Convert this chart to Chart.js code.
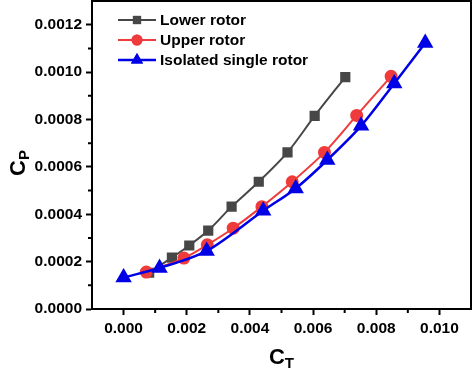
<!DOCTYPE html>
<html lang="en">
<head>
    <meta charset="UTF-8">
    <title>CP vs CT</title>
    <script src="https://cdn.jsdelivr.net/npm/chart.js"></script>
    <style>
        body { margin: 0; background: #fff; }
    </style>
</head>
<body>

<canvas id="chart" width="474" height="373"></canvas>

<script>
    // values
    var lowerCT = [0.00081, 0.00153, 0.00208, 0.00268, 0.00342, 0.00428, 0.00519, 0.00605, 0.00702]
    var lowerCP = [0.000153, 0.000217, 0.000268, 0.000331, 0.000432, 0.000537, 0.000661, 0.000815, 0.000979]
    var upperCT = [0.00072, 0.00191, 0.00265, 0.00347, 0.00438, 0.00534, 0.00636, 0.00738, 0.00847]
    var upperCP = [0.000156, 0.000215, 0.000271, 0.000341, 0.000432, 0.000537, 0.000661, 0.000817, 0.000982]
    var singleCT = [0, 0.00114, 0.00263, 0.00442, 0.00545, 0.00645, 0.00752, 0.00857, 0.00955]
    var singleCP = [0.000133, 0.000173, 0.000245, 0.000415, 0.000509, 0.000629, 0.000773, 0.000952, 0.001123]

    var xTicks = [0, 0.002, 0.004, 0.006, 0.008, 0.010]
    var yTicks = [0, 0.0002, 0.0004, 0.0006, 0.0008, 0.0010, 0.0012]

    var font = '"Liberation Sans", Arial, sans-serif'

    function pts(xs, ys) {
        return xs.map((x, i) => ({x: x, y: ys[i]}))
    }

    var frame = {
        id: 'frame',
        afterDraw(chart) {
            var ctx = chart.ctx
            var a = chart.chartArea
            var xs = chart.scales.x, ys = chart.scales.y
            ctx.save()
            ctx.strokeStyle = '#000'
            ctx.lineWidth = 2
            ctx.strokeRect(a.left, a.top, a.right - a.left, a.bottom - a.top)

            // minor ticks
            ctx.beginPath()
            for (var v = 0.001; v < 0.0105; v += 0.002) {
                var px = xs.getPixelForValue(v)
                ctx.moveTo(px, a.bottom)
                ctx.lineTo(px, a.bottom + 4)
            }
            for (var w = 0.0001; w < 0.00125; w += 0.0002) {
                var py = ys.getPixelForValue(w)
                ctx.moveTo(a.left, py)
                ctx.lineTo(a.left - 4, py)
            }
            ctx.stroke()

            // axis titles with subscripts
            ctx.fillStyle = '#000'
            ctx.textBaseline = 'alphabetic'
            ctx.textAlign = 'left'
            var big = 'bold 22px ' + font, small = 'bold 15px ' + font
            ctx.font = big
            var cw = ctx.measureText('C').width
            ctx.font = small
            var tw = ctx.measureText('T').width
            var cx = (a.left + a.right) / 2 - (cw + tw) / 2
            ctx.font = big
            ctx.fillText('C', cx, 364)
            ctx.font = small
            ctx.fillText('T', cx + cw, 368)

            ctx.save()
            ctx.translate(25, (a.top + a.bottom) / 2 + 8)
            ctx.rotate(-Math.PI / 2)
            ctx.font = small
            var pw = ctx.measureText('P').width
            ctx.font = big
            ctx.fillText('C', -(cw + pw) / 2, 0)
            ctx.font = small
            ctx.fillText('P', -(cw + pw) / 2 + cw, 4)
            ctx.restore()

            // legend
            chart.data.datasets.forEach((d, i) => {
                var y = 20 + i * 20
                ctx.strokeStyle = d.borderColor
                ctx.lineWidth = d.borderWidth
                ctx.beginPath()
                ctx.moveTo(118, y)
                ctx.lineTo(156, y)
                ctx.stroke()
                ctx.fillStyle = d.backgroundColor
                Chart.helpers.drawPoint(ctx, {pointStyle: d.pointStyle, radius: d.pointRadius, rotation: 0, borderWidth: 0}, 137, y)
                ctx.fill()
                ctx.fillStyle = '#000'
                ctx.font = 'bold 15.5px ' + font
                ctx.textBaseline = 'middle'
                ctx.fillText(d.label, 160, y + 1)
            })
            ctx.restore()
        }
    }

    var canvas = document.getElementById('chart')
    var chart = new Chart(canvas, {
        type: 'scatter',
        data: {
            datasets: [{
                label: 'Lower rotor',
                data: pts(lowerCT, lowerCP),
                borderColor: '#474747',
                backgroundColor: '#474747',
                borderWidth: 2,
                pointStyle: 'rect',
                pointRadius: 5.8,
                order: 2
            }, {
                label: 'Upper rotor',
                data: pts(upperCT, upperCP),
                borderColor: '#ef3b3b',
                backgroundColor: '#ef3b3b',
                borderWidth: 2,
                pointStyle: 'circle',
                pointRadius: 5.5,
                order: 1
            }, {
                label: 'Isolated single rotor',
                data: pts(singleCT, singleCP),
                borderColor: '#0000e6',
                backgroundColor: '#0000e6',
                borderWidth: 2.5,
                pointStyle: 'triangle',
                pointRadius: 7,
                order: 0
            }]
        },
        options: {
            responsive: false,
            animation: false,
            showLine: true,
            elements: {
                line: {tension: 0.3},
                point: {borderWidth: 0, hoverRadius: 6}
            },
            layout: {autoPadding: false, padding: {top: 1, right: 3, left: 0, bottom: 0}},
            plugins: {legend: {display: false}, tooltip: {enabled: false}},
            scales: {
                x: {
                    type: 'linear',
                    min: -0.001,
                    max: 0.011,
                    afterBuildTicks: s => { s.ticks = xTicks.map(v => ({value: v})) },
                    afterFit: s => { s.height = 64; s.paddingLeft = 0; s.paddingRight = 0 },
                    grid: {drawOnChartArea: false, tickLength: 6, tickWidth: 2, tickColor: '#000'},
                    border: {display: true, color: '#000', width: 2},
                    ticks: {
                        color: '#000',
                        font: {family: font, size: 15.5, weight: 'bold'},
                        padding: 4,
                        maxRotation: 0,
                        callback: v => v.toFixed(3)
                    }
                },
                y: {
                    type: 'linear',
                    min: 0,
                    max: 0.0013,
                    afterBuildTicks: s => { s.ticks = yTicks.map(v => ({value: v})) },
                    afterFit: s => { s.width = 92; s.paddingTop = 0; s.paddingBottom = 0 },
                    grid: {drawOnChartArea: false, tickLength: 6, tickWidth: 2, tickColor: '#000'},
                    border: {display: true, color: '#000', width: 2},
                    ticks: {
                        color: '#000',
                        font: {family: font, size: 15.5, weight: 'bold'},
                        padding: 4,
                        callback: v => v.toFixed(4)
                    }
                }
            }
        },
        plugins: [frame]
    })
</script>

</body>
</html>
